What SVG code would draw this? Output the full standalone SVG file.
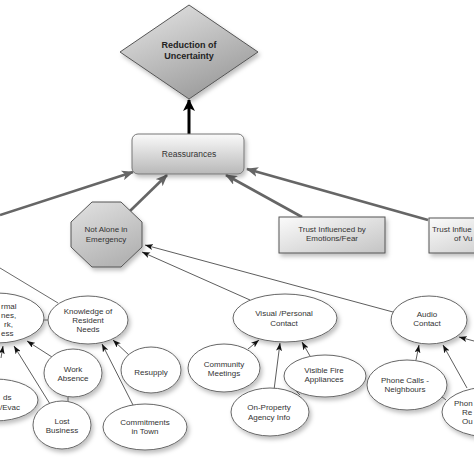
<svg xmlns="http://www.w3.org/2000/svg" width="474" height="474" viewBox="0 0 474 474">
<defs>
<style>
.t{font-family:"Liberation Sans",Arial,sans-serif;font-size:8px;fill:#333;text-anchor:middle}
.ts{font-family:"Liberation Sans",Arial,sans-serif;font-size:8px;fill:#333}
.b{font-family:"Liberation Sans",Arial,sans-serif;font-size:9px;font-weight:bold;fill:#222;text-anchor:middle}
.e{fill:#fff;stroke:#666;stroke-width:1;filter:url(#sh)}
.thin{fill:none;stroke:#333;stroke-width:0.8;marker-end:url(#a)}
.plain{fill:none;stroke:#444;stroke-width:0.8}
.gray{fill:none;stroke:#666;stroke-width:2.6;marker-end:url(#g)}
</style>
<filter id="sh" x="-20%" y="-20%" width="150%" height="150%">
<feDropShadow dx="2" dy="3" stdDeviation="2" flood-color="#000" flood-opacity="0.25"/>
</filter>
<linearGradient id="gd" x1="0" y1="0" x2="0.6" y2="1">
<stop offset="0" stop-color="#e8e8e8"/><stop offset="1" stop-color="#9c9c9c"/>
</linearGradient>
<linearGradient id="gr" x1="0" y1="0" x2="0" y2="1">
<stop offset="0" stop-color="#fafafa"/><stop offset="1" stop-color="#b8b8b8"/>
</linearGradient>
<linearGradient id="go" x1="0" y1="0" x2="0.5" y2="1">
<stop offset="0" stop-color="#e2e2e2"/><stop offset="1" stop-color="#b4b4b4"/>
</linearGradient>
<linearGradient id="gb" x1="0" y1="0" x2="1" y2="1">
<stop offset="0" stop-color="#fbfbfb"/><stop offset="1" stop-color="#c4c4c4"/>
</linearGradient>
<marker id="a" viewBox="0 0 8 6" refX="8" refY="3" markerWidth="8" markerHeight="6" markerUnits="userSpaceOnUse" orient="auto">
<path d="M0,0 L8,3 L0,6 L2,3 z" fill="#111"/>
</marker>
<marker id="g" viewBox="0 0 12 10" refX="11" refY="5" markerWidth="12" markerHeight="10" markerUnits="userSpaceOnUse" orient="auto">
<path d="M0,0 L12,5 L0,10 L3,5 z" fill="#666"/>
</marker>
<marker id="k" viewBox="0 0 12 12" refX="11" refY="6" markerWidth="12" markerHeight="12" markerUnits="userSpaceOnUse" orient="auto">
<path d="M0,0 L12,6 L0,12 L3,6 z" fill="#000"/>
</marker>
</defs>

<g id="connectors">
<line x1="189" y1="134" x2="189" y2="100" stroke="#000" stroke-width="3" marker-end="url(#k)"/>
<line class="gray" x1="0" y1="215" x2="133" y2="172"/>
<line class="gray" x1="130" y1="211" x2="167" y2="175"/>
<line class="gray" x1="302" y1="217" x2="226" y2="175"/>
<line class="gray" x1="428" y1="220" x2="247" y2="169"/>
<line class="thin" x1="393" y1="312" x2="145" y2="245"/>
<line class="thin" x1="250" y1="300" x2="142" y2="252"/>
<line class="plain" x1="0" y1="268" x2="58" y2="303"/>
<line class="plain" x1="44" y1="320" x2="48" y2="320"/>
<line class="thin" x1="52" y1="357" x2="27" y2="341"/>
<line class="thin" x1="50" y1="404" x2="14" y2="346"/>
<line class="thin" x1="1" y1="358" x2="3" y2="346"/>
<line class="plain" x1="68" y1="397" x2="68" y2="402"/>
<line class="thin" x1="130" y1="356" x2="113" y2="340"/>
<line class="thin" x1="133" y1="405" x2="102" y2="344"/>
<line class="thin" x1="248" y1="349" x2="259" y2="340"/>
<line class="thin" x1="274" y1="390" x2="280" y2="343"/>
<line class="thin" x1="310" y1="356" x2="302" y2="342"/>
<line class="plain" x1="296" y1="391" x2="300" y2="395"/>
<line class="thin" x1="416" y1="360" x2="419" y2="345"/>
<line class="thin" x1="467" y1="388" x2="443" y2="345"/>
<line class="thin" x1="474" y1="341" x2="459" y2="337"/>
<line class="plain" x1="441" y1="396" x2="446" y2="400"/>
</g>

<g id="reduction">
<polygon points="189,5 258,52 189,99 120,52" fill="url(#gd)" stroke="#555" stroke-width="1" filter="url(#sh)"/>
<text class="b" x="189" y="48">Reduction of</text>
<text class="b" x="189" y="59">Uncertainty</text>
</g>

<g id="reassurances">
<rect x="132" y="134" width="112" height="40" rx="6" fill="url(#gr)" stroke="#777" stroke-width="1" filter="url(#sh)"/>
<text class="t" x="189" y="157" style="font-size:8.5px">Reassurances</text>
</g>

<g id="notalone">
<polygon points="92,202 121,202 142,222 142,247 121,267 92,267 71,247 71,222" fill="url(#go)" stroke="#555" stroke-width="1" filter="url(#sh)"/>
<text class="t" x="106" y="232">Not Alone in</text>
<text class="t" x="106" y="242">Emergency</text>
</g>

<g id="trust-emotions">
<rect x="279" y="217" width="106" height="36" fill="url(#gb)" stroke="#555" stroke-width="1" filter="url(#sh)"/>
<text class="t" x="332" y="232">Trust Influenced by</text>
<text class="t" x="332" y="241">Emotions/Fear</text>
</g>

<g id="trust-vul">
<rect x="429" y="218" width="106" height="35" fill="url(#gb)" stroke="#555" stroke-width="1" filter="url(#sh)"/>
<text class="ts" x="432" y="232">Trust Influe</text>
<text class="ts" x="454" y="241">of Vu</text>
</g>

<g id="informal">
<ellipse class="e" cx="-3" cy="318" rx="47" ry="25"/>
<text class="ts" x="1" y="309">rmal</text>
<text class="ts" x="1" y="318">nes,</text>
<text class="ts" x="4" y="327">rk,</text>
<text class="ts" x="1" y="336">ess</text>
</g>

<g id="needs-evac">
<ellipse class="e" cx="-5" cy="400" rx="43" ry="21"/>
<text class="ts" x="3" y="400">ds</text>
<text class="ts" x="0" y="410">/Evac</text>
</g>

<g id="knowledge">
<ellipse class="e" cx="88" cy="320" rx="40" ry="24"/>
<text class="t" x="88" y="314">Knowledge of</text>
<text class="t" x="88" y="323">Resident</text>
<text class="t" x="88" y="332">Needs</text>
</g>

<g id="work-absence">
<ellipse class="e" cx="73" cy="373" rx="29" ry="24"/>
<text class="t" x="73" y="372">Work</text>
<text class="t" x="73" y="381">Absence</text>
</g>

<g id="resupply">
<ellipse class="e" cx="151" cy="370" rx="30" ry="23"/>
<text class="t" x="151" y="375">Resupply</text>
</g>

<g id="lost-business">
<ellipse class="e" cx="62" cy="425" rx="29" ry="24"/>
<text class="t" x="62" y="424">Lost</text>
<text class="t" x="62" y="433">Business</text>
</g>

<g id="commitments">
<ellipse class="e" cx="145" cy="427" rx="42" ry="23"/>
<text class="t" x="145" y="425">Commitments</text>
<text class="t" x="145" y="434">in Town</text>
</g>

<g id="visual">
<ellipse class="e" cx="285" cy="318" rx="52" ry="24"/>
<text class="t" x="284" y="316">Visual /Personal</text>
<text class="t" x="284" y="326">Contact</text>
</g>

<g id="community">
<ellipse class="e" cx="224" cy="368" rx="36" ry="24"/>
<text class="t" x="224" y="367">Community</text>
<text class="t" x="224" y="376">Meetings</text>
</g>

<g id="onproperty">
<ellipse class="e" cx="270" cy="412" rx="39" ry="24"/>
<text class="t" x="269" y="410">On-Property</text>
<text class="t" x="269" y="420">Agency Info</text>
</g>

<g id="visible-fire">
<ellipse class="e" cx="325" cy="376" rx="41" ry="21"/>
<text class="t" x="324" y="373">Visible Fire</text>
<text class="t" x="324" y="382">Appliances</text>
</g>

<g id="audio">
<ellipse class="e" cx="429" cy="320" rx="38" ry="24"/>
<text class="t" x="427" y="317">Audio</text>
<text class="t" x="427" y="326">Contact</text>
</g>

<g id="phone-neighbours">
<ellipse class="e" cx="407" cy="385" rx="40" ry="25"/>
<text class="t" x="405" y="383">Phone Calls -</text>
<text class="t" x="405" y="392">Neighbours</text>
</g>

<g id="phone-other">
<ellipse class="e" cx="490" cy="412" rx="48" ry="25"/>
<text class="ts" x="454" y="406">Phon</text>
<text class="ts" x="462" y="415">Re</text>
<text class="ts" x="462" y="424">Ou</text>
</g>
</svg>
